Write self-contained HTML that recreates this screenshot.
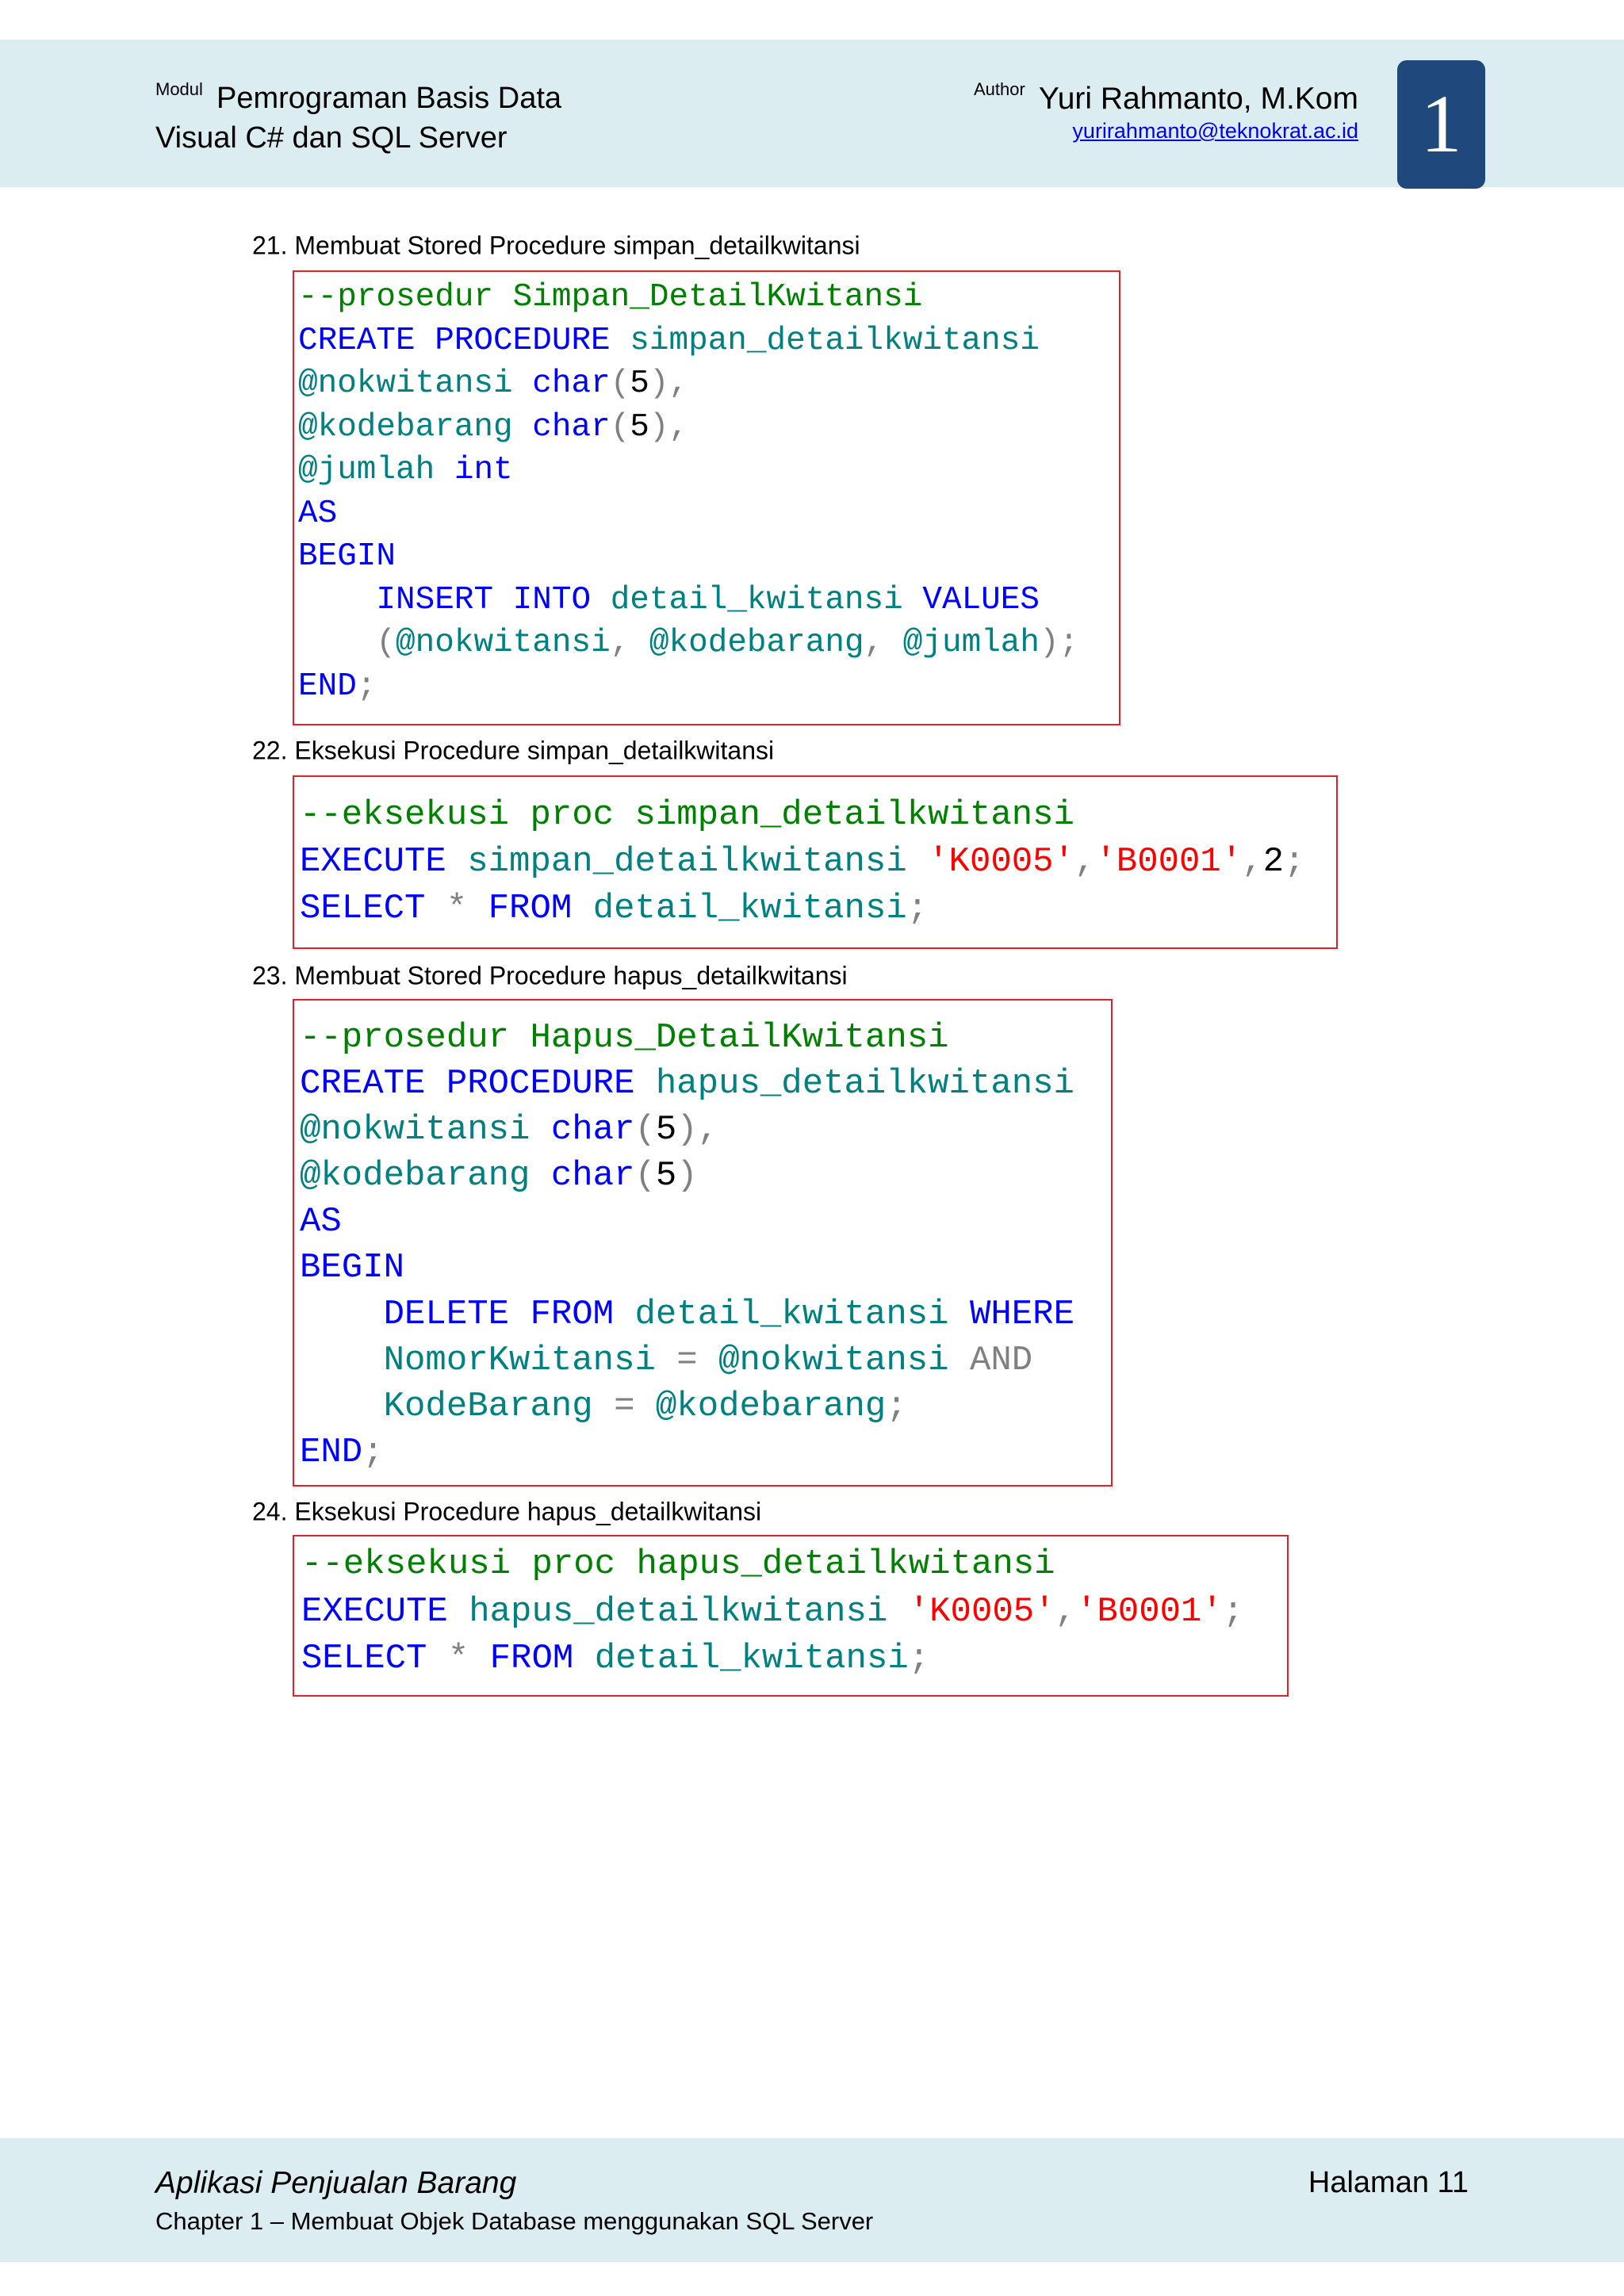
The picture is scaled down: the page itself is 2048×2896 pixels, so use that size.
<!DOCTYPE html>
<html><head><meta charset="utf-8"><style>
body{margin:0;width:2048px;height:2896px;background:#fff;position:relative;overflow:hidden;font-family:"Liberation Sans",sans-serif;color:#000}
.a{position:absolute;white-space:pre}
.band{position:absolute;left:0;width:2048px;background:#dcedf2}
.box{position:absolute;border:2px solid #e5202a;box-sizing:border-box}
.code{position:absolute;font-family:"Liberation Mono",monospace;white-space:pre;margin:0}
.g{color:#008000}.b{color:#0000ff}.t{color:#008080}.k{color:#808080}.r{color:#ff0000}.n{color:#000}
.lbl{position:absolute;font-size:32px;white-space:pre;transform:translateY(-50%)}
</style></head><body>
<div class="band" style="top:50px;height:186px"></div>
<div class="a" style="left:196px;top:100px;font-size:22px">Modul</div>
<div class="a" style="left:273px;top:103px;font-size:38px">Pemrograman Basis Data</div>
<div class="a" style="left:196px;top:153px;font-size:38px">Visual C# dan SQL Server</div>
<div class="a" style="left:1228px;top:100px;font-size:22px">Author</div>
<div class="a" style="left:1293px;top:103px;font-size:39px;width:420px;text-align:right">Yuri Rahmanto, M.Kom</div>
<div class="a" style="left:1293px;top:150px;font-size:27px;width:420px;text-align:right;color:#0000ee;text-decoration:underline">yurirahmanto@teknokrat.ac.id</div>
<div style="position:absolute;left:1762px;top:76px;width:111px;height:162px;background:#1f497d;border-radius:12px;color:#fff;font-family:'Liberation Serif',serif;font-size:104px;text-align:center;line-height:162px">1</div>

<div class="lbl" style="left:318px;top:310px">21. Membuat Stored Procedure simpan_detailkwitansi</div>
<div class="box" style="left:369px;top:341px;width:1044px;height:574px"></div>
<pre class="code" style="left:376px;top:348px;font-size:41px;line-height:54.5px"><span class="g">--prosedur Simpan_DetailKwitansi</span>
<span class="b">CREATE PROCEDURE</span> <span class="t">simpan_detailkwitansi</span>
<span class="t">@nokwitansi</span> <span class="b">char</span><span class="k">(</span>5<span class="k">),</span>
<span class="t">@kodebarang</span> <span class="b">char</span><span class="k">(</span>5<span class="k">),</span>
<span class="t">@jumlah</span> <span class="b">int</span>
<span class="b">AS</span>
<span class="b">BEGIN</span>
    <span class="b">INSERT INTO</span> <span class="t">detail_kwitansi</span> <span class="b">VALUES</span>
    <span class="k">(</span><span class="t">@nokwitansi</span><span class="k">,</span> <span class="t">@kodebarang</span><span class="k">,</span> <span class="t">@jumlah</span><span class="k">);</span>
<span class="b">END</span><span class="k">;</span></pre>

<div class="lbl" style="left:318px;top:947px">22. Eksekusi Procedure simpan_detailkwitansi</div>
<div class="box" style="left:369px;top:978px;width:1318px;height:219px"></div>
<pre class="code" style="left:378px;top:999px;font-size:44px;line-height:59px"><span class="g">--eksekusi proc simpan_detailkwitansi</span>
<span class="b">EXECUTE</span> <span class="t">simpan_detailkwitansi</span> <span class="r">'K0005'</span><span class="k">,</span><span class="r">'B0001'</span><span class="k">,</span>2<span class="k">;</span>
<span class="b">SELECT</span> <span class="k">*</span> <span class="b">FROM</span> <span class="t">detail_kwitansi</span><span class="k">;</span></pre>

<div class="lbl" style="left:318px;top:1231px">23. Membuat Stored Procedure hapus_detailkwitansi</div>
<div class="box" style="left:369px;top:1260px;width:1034px;height:615px"></div>
<pre class="code" style="left:378px;top:1280px;font-size:44px;line-height:58.1px"><span class="g">--prosedur Hapus_DetailKwitansi</span>
<span class="b">CREATE PROCEDURE</span> <span class="t">hapus_detailkwitansi</span>
<span class="t">@nokwitansi</span> <span class="b">char</span><span class="k">(</span>5<span class="k">),</span>
<span class="t">@kodebarang</span> <span class="b">char</span><span class="k">(</span>5<span class="k">)</span>
<span class="b">AS</span>
<span class="b">BEGIN</span>
    <span class="b">DELETE FROM</span> <span class="t">detail_kwitansi</span> <span class="b">WHERE</span>
    <span class="t">NomorKwitansi</span> <span class="k">=</span> <span class="t">@nokwitansi</span> <span class="k">AND</span>
    <span class="t">KodeBarang</span> <span class="k">=</span> <span class="t">@kodebarang</span><span class="k">;</span>
<span class="b">END</span><span class="k">;</span></pre>

<div class="lbl" style="left:318px;top:1907px">24. Eksekusi Procedure hapus_detailkwitansi</div>
<div class="box" style="left:369px;top:1936px;width:1256px;height:204px"></div>
<pre class="code" style="left:380px;top:1944px;font-size:44px;line-height:59.5px"><span class="g">--eksekusi proc hapus_detailkwitansi</span>
<span class="b">EXECUTE</span> <span class="t">hapus_detailkwitansi</span> <span class="r">'K0005'</span><span class="k">,</span><span class="r">'B0001'</span><span class="k">;</span>
<span class="b">SELECT</span> <span class="k">*</span> <span class="b">FROM</span> <span class="t">detail_kwitansi</span><span class="k">;</span></pre>

<div class="band" style="top:2697px;height:156px"></div>
<div class="a" style="left:196px;top:2732px;font-size:39px;font-style:italic">Aplikasi Penjualan Barang</div>
<div class="a" style="left:196px;top:2784px;font-size:31px">Chapter 1 – Membuat Objek Database menggunakan SQL Server</div>
<div class="a" style="left:1552px;top:2732px;font-size:38px;width:300px;text-align:right">Halaman 11</div>
</body></html>
